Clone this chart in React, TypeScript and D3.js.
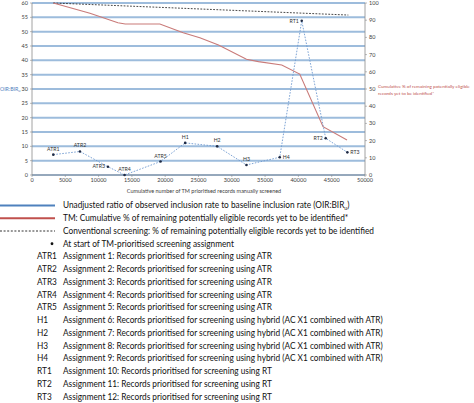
import React from 'react';
import * as d3 from 'd3';

// OIR:BIRu series (left axis)
const oirLabels = ['ATR1', 'ATR2', 'ATR3', 'ATR4', 'ATR5', 'H1', 'H2', 'H3', 'H4', 'RT1', 'RT2', 'RT3'];
const oirRecords = [3200, 7200, 11400, 13900, 19300, 23000, 27800, 32200, 37200, 40500, 44100, 47350];
const oirRatio = [7.1, 8.2, 2.9, 0, 4.7, 11.2, 10, 3.5, 6.2, 53.8, 12.8, 7.9];
const labelSide = ['above', 'above', 'left', 'above', 'above', 'above', 'above', 'above', 'right', 'left', 'left', 'right'];

// TM cumulative % remaining (right axis)
const tmRecords = [3200, 8700, 12900, 14000, 19200, 22700, 25200, 28000, 32200, 34000, 37500, 40200, 43700, 47300];
const tmRemaining = [100, 94, 88.5, 87.8, 87.8, 82.7, 79.8, 75.6, 67.3, 65.9, 64.0, 58.7, 28.1, 20.3];

// Conventional screening (right axis)
const convRecords = [3200, 47500];
const convRemaining = [100, 93];

const xTicks = [0, 5000, 10000, 15000, 20000, 25000, 30000, 35000, 40000, 45000, 50000];
const leftTicks = [0, 5, 10, 15, 20, 25, 30, 35, 40, 45, 50, 55, 60];
const rightTicks = [0, 10, 20, 30, 40, 50, 60, 70, 80, 90, 100];

const legendCodes = ['ATR1', 'ATR2', 'ATR3', 'ATR4', 'ATR5', 'H1', 'H2', 'H3', 'H4', 'RT1', 'RT2', 'RT3'];
const legendTexts = [
  'Assignment 1: Records prioritised  for screening using ATR',
  'Assignment 2: Records prioritised  for screening using ATR',
  'Assignment 3: Records prioritised  for screening using ATR',
  'Assignment 4: Records prioritised  for screening using ATR',
  'Assignment 5: Records prioritised  for screening using ATR',
  'Assignment 6: Records prioritised  for screening using hybrid (AC X1 combined with ATR)',
  'Assignment 7: Records prioritised  for screening using hybrid (AC X1 combined with ATR)',
  'Assignment 8: Records prioritised  for screening using hybrid (AC X1 combined with ATR)',
  'Assignment 9: Records prioritised  for screening using hybrid (AC X1 combined with ATR)',
  'Assignment 10: Records prioritised  for screening using RT',
  'Assignment 11: Records prioritised  for screening using RT',
  'Assignment 12: Records prioritised  for screening using RT',
];

const W = 474;
const H = 403;
const plot = { left: 32, right: 365, top: 3, bottom: 175 };

const GRID = '#9dbcdc';
const BLUE = '#4f81bd';
const RED = '#c0504d';
const AXIS = '#8c8c8c';
const TICK_TXT = '#404040';
const chartFont = 'Lato, "Open Sans", sans-serif';

const App: React.FC = () => {
  const x = d3.scaleLinear().domain([0, 50000]).range([plot.left, plot.right]);
  const yL = d3.scaleLinear().domain([0, 60]).range([plot.bottom, plot.top]);
  const yR = d3.scaleLinear().domain([0, 100]).range([plot.bottom, plot.top]);

  const oirPts: [number, number][] = oirRecords.map((r, i) => [x(r), yL(oirRatio[i])]);
  const tmPts: [number, number][] = tmRecords.map((r, i) => [x(r), yR(tmRemaining[i])]);
  const convPts: [number, number][] = convRecords.map((r, i) => [x(r), yR(convRemaining[i])]);
  const line = d3.line();

  const legendTop = 205.5;
  const rowStep = 12.75;

  const labelPos = (side: string, px: number, py: number) => {
    if (side === 'left') return { x: px - 3, y: py + 1.8, anchor: 'end' };
    if (side === 'right') return { x: px + 3, y: py + 1.8, anchor: 'start' };
    return { x: px, y: py - 4, anchor: 'middle' };
  };

  return (
    <svg width={W} height={H} style={{ position: 'absolute', left: 0, top: 0, background: '#fff' }}>
      {/* gridlines */}
      {leftTicks.map(t => (
        <line key={'g' + t} x1={plot.left} x2={plot.right} y1={yL(t)} y2={yL(t)} stroke={GRID} strokeWidth={2} />
      ))}
      {/* axes */}
      <line x1={plot.left} x2={plot.left} y1={plot.top} y2={plot.bottom} stroke={AXIS} strokeWidth={0.8} />
      <line x1={plot.right} x2={plot.right} y1={plot.top} y2={plot.bottom} stroke={AXIS} strokeWidth={0.8} />
      <line x1={plot.left} x2={plot.right} y1={plot.bottom} y2={plot.bottom} stroke={AXIS} strokeWidth={0.8} />

      {/* left ticks */}
      {leftTicks.map(t => (
        <g key={'l' + t}>
          <line x1={plot.left - 2} x2={plot.left} y1={yL(t)} y2={yL(t)} stroke={AXIS} strokeWidth={0.6} />
          <text x={plot.left - 4} y={yL(t) + 2} textAnchor="end" fontSize={5.5} fill={TICK_TXT} fontFamily={chartFont}>{t}</text>
        </g>
      ))}
      {/* right ticks */}
      {rightTicks.map(t => (
        <g key={'r' + t}>
          <line x1={plot.right} x2={plot.right + 2} y1={yR(t)} y2={yR(t)} stroke={AXIS} strokeWidth={0.6} />
          <text x={plot.right + 4} y={yR(t) + 2} textAnchor="start" fontSize={5.5} fill={TICK_TXT} fontFamily={chartFont}>{t}</text>
        </g>
      ))}
      {/* x ticks */}
      {xTicks.map(t => (
        <g key={'x' + t}>
          <line x1={x(t)} x2={x(t)} y1={plot.bottom} y2={plot.bottom + 2} stroke={AXIS} strokeWidth={0.6} />
          <text x={x(t)} y={plot.bottom + 7} textAnchor="middle" fontSize={5.5} fill={TICK_TXT} fontFamily={chartFont}>{t}</text>
        </g>
      ))}
      <text x={204} y={193} textAnchor="middle" fontSize={5.5} fill={TICK_TXT} fontFamily={chartFont}>
        Cumulative number of TM prioritised records manually screened
      </text>

      {/* axis titles */}
      <text x={0} y={90.5} fontSize={5.2} fill={BLUE} fontFamily={chartFont}>
        OIR:BIR<tspan fontSize={3.8} dy={1.2}>u</tspan>
      </text>
      <g fontSize={4.6} fill={RED} fontFamily={chartFont}>
        <text x={378} y={88}>Cumulative % of remaining potentially eligible</text>
        <text x={378} y={95}>records yet to be identified*</text>
      </g>

      {/* conventional screening */}
      <path d={line(convPts) || ''} fill="none" stroke="#333" strokeWidth={0.9} strokeDasharray="1.8,1.4" />
      {/* TM line */}
      <path d={line(tmPts) || ''} fill="none" stroke="#c97a78" strokeWidth={1.1} />
      {/* OIR line */}
      <path d={line(oirPts) || ''} fill="none" stroke="#6f9ad0" strokeWidth={0.9} strokeDasharray="1.6,1.4" />
      {oirPts.map((p, i) => {
        const lp = labelPos(labelSide[i], p[0], p[1]);
        return (
          <g key={'o' + i}>
            <circle cx={p[0]} cy={p[1]} r={1.3} fill="#1f2a44" />
            <text x={lp.x} y={lp.y} textAnchor={lp.anchor as any} fontSize={5.2} fill="#333" fontFamily={chartFont}>
              {oirLabels[i]}
            </text>
          </g>
        );
      })}

      {/* legend */}
      <g fontFamily={chartFont} fontSize={9.2} fill="#111">
        <line x1={0} x2={55} y1={legendTop} y2={legendTop} stroke={BLUE} strokeWidth={2} />
        <line x1={0} x2={55} y1={legendTop + rowStep} y2={legendTop + rowStep} stroke={RED} strokeWidth={2} />
        <line x1={0} x2={55} y1={legendTop + rowStep * 2} y2={legendTop + rowStep * 2} stroke="#333" strokeWidth={1} strokeDasharray="2,1.6" />
        <circle cx={52} cy={legendTop + rowStep * 3} r={1.4} fill="#111" />
        <g transform="translate(63,0) scale(0.9,1)">
          <text x={0} y={legendTop + 3}>
            Unadjusted ratio of observed inclusion rate to baseline inclusion rate (OIR:BIR<tspan fontSize={6} dy={1.5}>u</tspan><tspan dy={-1.5}>)</tspan>
          </text>
          <text x={0} y={legendTop + rowStep + 3}>TM: Cumulative % of remaining  potentially eligible records yet to be identified*</text>
          <text x={0} y={legendTop + rowStep * 2 + 3}>Conventional screening: % of remaining potentially eligible records yet to be identified</text>
          <text x={0} y={legendTop + rowStep * 3 + 3}>At start of TM-prioritised screening assignment</text>
          {legendTexts.map((t, i) => (
            <text key={'lt' + i} x={0} y={legendTop + rowStep * (4 + i) + 3}>{t}</text>
          ))}
        </g>
        <g transform="translate(37,0) scale(0.9,1)">
          {legendCodes.map((c, i) => (
            <text key={'lc' + i} x={0} y={legendTop + rowStep * (4 + i) + 3}>{c}</text>
          ))}
        </g>
      </g>
    </svg>
  );
};

export default App;
